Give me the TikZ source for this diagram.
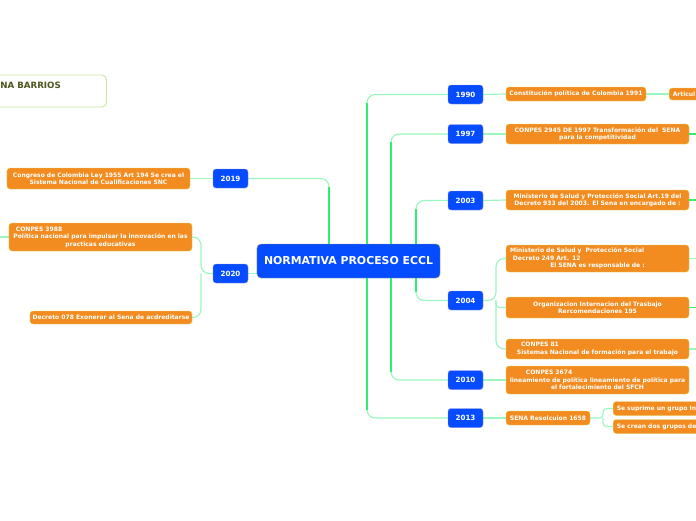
\documentclass[tikz,border=0pt]{standalone}
\usepackage{fontspec}
\setmainfont{DejaVu Sans}
\usetikzlibrary{backgrounds}

\definecolor{azul}{RGB}{5,75,255}
\definecolor{lila}{RGB}{140,140,235}
\definecolor{naranja}{RGB}{242,140,32}
\definecolor{bordeN}{RGB}{222,214,90}
\definecolor{verde}{RGB}{45,240,110}
\definecolor{verdeclaro}{RGB}{155,245,190}
\definecolor{bordeA}{RGB}{200,232,160}
\definecolor{oliva}{RGB}{75,85,30}
\definecolor{bordeC}{RGB}{150,150,120}

\newcommand{\linea}[1]{\makebox[5.25cm]{#1}}

\tikzset{
    anio/.style={draw=lila, fill=azul, rounded corners=2.5pt, inner sep=0pt,
        minimum width=1.05cm, minimum height=0.57cm, text=white,
        font=\fontsize{6.1}{7}\selectfont\bfseries},
    hoja/.style={draw=bordeN, fill=naranja, rounded corners=2.5pt, inner sep=0pt,
        text=white, font=\fontsize{5.15}{6.4}\selectfont\bfseries, align=center},
    ancha/.style={hoja, minimum width=5.49cm, text width=5.25cm},
    rama/.style={verdeclaro, line width=1pt, rounded corners=7pt},
    tronco/.style={verde, line width=2.4pt},
    salida/.style={verde, line width=1.5pt},
}

\begin{document}
\begin{tikzpicture}[x=0.03cm, y=-0.03cm]
    \useasboundingbox (0,0) rectangle (696,520);

    % Nodo central
    \node[draw=bordeC, fill=azul, rounded corners=3.5pt, minimum width=5.49cm,
        minimum height=1.02cm, text=white,
        font=\fontsize{9.3}{11}\selectfont\bfseries] (centro) at (348.5,261)
        {NORMATIVA PROCESO ECCL};

    % Autor
    \node[draw=bordeA, fill=white, rounded corners=4pt, line width=0.8pt,
        anchor=west, minimum width=3.6cm, minimum height=0.96cm,
        text width=2.76cm, inner xsep=0.42cm, text height=5.5pt, text depth=10pt,
        align=left, text=oliva, font=\fontsize{7.4}{8}\selectfont\bfseries]
        (autor) at (-14,91) {NA BARRIOS};

    % Años
    \node[anio] (a1990) at (465.5,94.5) {1990};
    \node[anio] (a1997) at (465.5,134) {1997};
    \node[anio] (a2003) at (465.5,200.5) {2003};
    \node[anio] (a2004) at (465.5,300.5) {2004};
    \node[anio] (a2010) at (465.5,380) {2010};
    \node[anio] (a2013) at (465.5,418) {2013};
    \node[anio] (a2019) at (230.5,178.5) {2019};
    \node[anio] (a2020) at (230.5,273.5) {2020};

    % Normas lado izquierdo
    \node[ancha, minimum height=0.63cm] (snc) at (98.5,178.5)
        {Congreso de Colombia Ley 1955 Art 194 Se crea el\\Sistema Nacional de Cualificaciones SNC};
    \node[ancha, minimum height=0.84cm, align=left] (c3988) at (100.5,237)
        {\hspace*{2.5pt}CONPES 3988\\\linea{Política nacional para impulsar la innovación en las}\\\linea{practicas educativas}};
    \node[hoja, minimum width=4.86cm, minimum height=0.39cm] (d078) at (111,317.5)
        {Decreto 078 Exonerar al Sena de acdreditarse};

    % Normas lado derecho
    \node[hoja, minimum width=4.2cm, minimum height=0.42cm] (const) at (576,94)
        {Constitución política de Colombia 1991};
    \node[hoja, anchor=west, minimum height=0.36cm, text width=1.6cm, align=left,
        inner xsep=3pt] (articulo) at (669,94) {Articul};
    \node[ancha, minimum height=0.6cm] (c2945) at (597.5,134)
        {CONPES 2945 DE 1997 Transformación del \ SENA\\para la competitividad};
    \node[ancha, minimum height=0.6cm] (m933) at (597.5,200)
        {Ministerio de Salud y Protección Social Art.19 del\\Decreto 933 del 2003. El Sena en encargado de :};
    \node[ancha, minimum height=0.81cm, align=left] (m249) at (597.5,258.5)
        {Ministerio de Salud y \ Protección Social\\\hspace*{2.5pt}Decreto 249 Art. 12\\\linea{El SENA es responsable de :}};
    \node[ancha, minimum height=0.63cm] (oit) at (597.5,307.5)
        {Organizacion Internacion del Trasbajo\\Rercomendaciones 195};
    \node[ancha, minimum height=0.6cm, align=left] (c81) at (597.5,349)
        {\hspace*{9.4pt}CONPES 81\\\linea{Sistemas Nacional de formación para el trabajo}};
    \node[ancha, minimum height=0.84cm, align=left] (c3674) at (597.5,380)
        {\hspace*{13.6pt}CONPES 3674\\\linea{lineamiento de política lineamiento de política para}\\\linea{el fortalecimiento del SFCH}};
    \node[hoja, minimum width=2.52cm, minimum height=0.42cm] (r1658) at (548,418)
        {SENA Resolcuion 1658};
    \node[hoja, anchor=west, minimum height=0.42cm, text width=3cm, align=left,
        inner xsep=3pt] (suprime) at (613,408.5) {Se suprime un grupo In};
    \node[hoja, anchor=west, minimum height=0.42cm, text width=3cm, align=left,
        inner xsep=3pt] (crean) at (613,426.5) {Se crean dos grupos de};

    % Conectores
    \begin{scope}[on background layer]
        \foreach \ano/\xx in {a1990/367, a1997/391, a2003/416, a2004/416, a2010/391, a2013/367} {
            \coordinate (t) at (\xx,261);
            \draw[rama] (t) |- (\ano.west);
            \draw[tronco, shorten >=7pt] (t) -- (t |- \ano.west);
        }
        \coordinate (t) at (329,261);
        \draw[rama] (t) |- (a2019.east);
        \draw[tronco, shorten >=7pt] (t) -- (t |- a2019.east);
        \draw[rama] (a2020.east) -- (a2020.east -| centro.west);

        % lado izquierdo
        \draw[rama] (a2019.west) -- (snc.east);
        \coordinate (b2020) at (201,273.5);
        \draw[rama] (a2020.west) -- (b2020) |- (c3988.east);
        \draw[rama] (b2020) |- (d078.east);
        \coordinate (izq) at (-10,237);
        \draw[rama] (c3988.west) -- (izq);

        % lado derecho
        \draw[rama] (a1990.east) -- (const.west);
        \draw[rama] (const.east) -- (articulo.west);
        \draw[rama] (a1997.east) -- (c2945.west);
        \draw[rama] (a2003.east) -- (m933.west);
        \coordinate (b2004) at (496,300.5);
        \draw[rama] (a2004.east) -- (b2004) |- (m249.west);
        \draw[rama, rounded corners=3pt] (b2004) |- (oit.west);
        \draw[rama] (b2004) |- (c81.west);
        \draw[rama] (a2010.east) -- (c3674.west);
        \draw[rama] (a2013.east) -- (r1658.west);
        \coordinate (b1658) at (603,418);
        \draw[rama, rounded corners=3pt] (r1658.east) -- (b1658) |- (suprime.west);
        \draw[rama, rounded corners=3pt] (b1658) |- (crean.west);

        % salidas fuera de la hoja
        \coordinate (f1997) at (706,134);
        \coordinate (f2003) at (706,200);
        \coordinate (f249) at (706,258.5);
        \coordinate (foit) at (706,307.5);
        \coordinate (f81) at (706,349);
        \draw[salida] (c2945.east) -- (f1997);
        \draw[salida] (m933.east) -- (f2003);
        \draw[rama] (m249.east) -- (f249);
        \draw[salida] (oit.east) -- (foit);
        \draw[rama] (c81.east) -- (f81);
    \end{scope}
\end{tikzpicture}
\end{document}
